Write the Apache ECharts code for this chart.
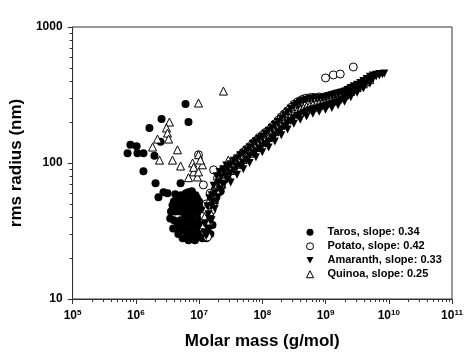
<!DOCTYPE html>
<html><head><meta charset="utf-8">
<script src="https://cdn.jsdelivr.net/npm/echarts@6/dist/echarts.min.js"></script>
<style>html,body{margin:0;padding:0;background:#fff}#c{width:474px;height:358px}</style>
</head><body><div id="c"></div>
<script>
const FONT = '"Liberation Sans", Arial, Helvetica, sans-serif';
const seriesNames = ['Taros, slope: 0.34', 'Potato, slope: 0.42', 'Amaranth, slope: 0.33', 'Quinoa, slope: 0.25'];
const yTickLabels = ['10', '100', '1000'];
const minorMultipliers = [2, 3, 4, 5, 6, 7, 8, 9];
const xDecades = [1e5, 1e6, 1e7, 1e8, 1e9, 1e10];
const yDecades = [10, 100];

// [molar mass (g/mol), rms radius (nm)]
const taros = [
[7.4e5,118],[8.2e5,136],[1.03e6,133],[1.06e6,118],[1.32e6,118],[1.32e6,87],[1.64e6,181],[1.97e6,113],[2.05e6,71],[2.28e6,56],[2.55e6,211],[2.46e6,143],[2.74e6,61],[3.17e6,60],[6.1e6,272],[6.8e6,200],[5.1e6,71],[6.8e6,61],
[3.8e6,49],[4.2e6,44],[4.7e6,53],[5.1e6,38],[5.7e6,47],[6.1e6,35],[6.6e6,41],[7.3e6,52],[7.3e6,32],[8.2e6,38],[8.8e6,47],[9.1e6,30],[9.8e6,35],[1.05e7,41],[1.13e7,28],[1.26e7,33],[1.36e7,39],[1.51e7,30],[1.63e7,35],[4.4e6,33],[5.5e6,28],[6.8e6,27],[3.5e6,39],[8.8e6,58],[1.17e7,49],[6.1e6,55],[4.7e6,30],[5.0e6,44],[6.0e6,40],[7.0e6,45],[8.0e6,42],[9.5e6,44],[1.0e7,52],[7.8e6,36],[9.0e6,33],[1.1e7,36],[1.2e7,44],[5.4e6,50],[6.4e6,31],
[3.6e6,44],[4.0e6,52],[4.0e6,38],[4.5e6,47],[4.6e6,36],[5.2e6,58],[5.3e6,32],[5.8e6,52],[5.9e6,43],[6.3e6,47],[6.5e6,37],[6.9e6,29],[7.1e6,56],[7.5e6,40],[7.6e6,48],[8.1e6,30],[8.4e6,52],[8.5e6,45],[9.2e6,38],[9.3e6,55],[9.7e6,29],[1.02e7,31],[1.03e7,46],[1.08e7,40],[1.15e7,32],[1.25e7,38],[1.3e7,28],[1.4e7,34],[1.45e7,42],[4.2e6,59],[3.9e6,33],[5.6e6,36],[6.2e6,60],[7.7e6,62],[8.6e6,27],
[2.2e7,62],[3.8e7,98],[6.5e7,118],[1.12e8,150],[1.93e8,190],[4.0e8,250],[8.3e8,280],[1.71e9,305],[2.96e9,350],[5.1e9,410]
];
const potato = [
[9.8e6,115],[1.7e7,89],[1.95e7,77],[1.17e7,69],[1.36e7,28.6],[2.4e7,89],[1.5e7,60],[1.3e7,50],[1.6e7,45],[1.42e7,36],[1.25e7,31],[1.2e7,41],[2.0e7,70],[1.8e7,64],
[2.6e7,88],[2.9e7,94],[3.2e7,100],[3.6e7,104],[4.0e7,108],[4.5e7,114],[5.0e7,120],[5.6e7,126],[6.3e7,132],[7.1e7,140],[7.9e7,146],[8.9e7,154],[1.0e8,160],[1.12e8,168],[1.26e8,174],[1.41e8,184],[1.58e8,194],[1.78e8,206],[2.0e8,218],[2.24e8,230],[2.51e8,242],[2.82e8,256],[3.16e8,270],[3.55e8,280],[3.98e8,288],[4.47e8,296],[5.01e8,300],[5.62e8,302],[6.31e8,304],[7.08e8,302],[7.94e8,306],[8.91e8,304],[1.0e9,308],[1.12e9,312],[1.26e9,316],[1.41e9,322],[1.58e9,326],[1.78e9,330],[2.0e9,336],[2.24e9,346],[2.51e9,356],
[1.0e9,422],[1.33e9,444],[1.71e9,451],[2.75e9,508]
];
const amaranth = [
[1.1e7,28],[1.2e7,31],[1.3e7,29],
[1.35e7,48],[1.45e7,55],[1.5e7,38],[1.65e7,52],[1.7e7,68],[1.9e7,52],[1.9e7,80],[2.1e7,64],[2.1e7,86],[2.35e7,70],[2.4e7,90],[2.65e7,80],[2.7e7,96],
[1.26e7,30],[1.26e7,36],[1.41e7,33],[1.41e7,42],[1.58e7,38],[1.58e7,48],[1.58e7,58],[1.78e7,46],[1.78e7,60],[2.0e7,56],[2.0e7,72],[2.24e7,62],[2.24e7,78],[2.51e7,70],[2.51e7,86],[2.82e7,76],[2.82e7,92],[3.16e7,84],[3.16e7,98],[3.55e7,88],[3.55e7,104],[3.98e7,94],[3.98e7,108],[4.47e7,96],[4.47e7,114],[5.01e7,100],[5.01e7,118],[5.62e7,106],[5.62e7,124],[6.31e7,112],[6.31e7,130],[7.08e7,118],[7.08e7,138],[7.94e7,122],[7.94e7,144],[8.91e7,128],[8.91e7,150],
[1.0e8,134],[1.0e8,156],[1.12e8,138],[1.12e8,164],[1.26e8,144],[1.26e8,172],[1.41e8,152],[1.41e8,180],[1.58e8,160],[1.58e8,190],[1.78e8,168],[1.78e8,200],[2.0e8,176],[2.0e8,212],[2.24e8,186],[2.24e8,224],[2.51e8,196],[2.51e8,236],[2.82e8,204],[2.82e8,250],[3.16e8,214],[3.16e8,262],[3.55e8,222],[3.55e8,272],[3.98e8,228],[3.98e8,282],[4.47e8,234],[4.47e8,288],[5.01e8,240],[5.01e8,292],[5.62e8,244],[5.62e8,296],[6.31e8,248],[6.31e8,298],[7.08e8,252],[7.08e8,300],[7.94e8,256],[7.94e8,300],[8.91e8,260],[8.91e8,302],
[1.0e9,264],[1.0e9,304],[1.12e9,268],[1.12e9,310],[1.26e9,272],[1.26e9,314],[1.41e9,278],[1.41e9,318],[1.58e9,284],[1.58e9,322],[1.78e9,292],[1.78e9,328],[2.0e9,300],[2.0e9,334],[2.24e9,312],[2.24e9,344],[2.51e9,326],[2.51e9,356],[2.82e9,338],[2.82e9,366],[3.16e9,350],[3.16e9,376],[3.55e9,362],[3.55e9,388],[3.98e9,376],[3.98e9,400],[4.47e9,390],[4.47e9,414],[5.01e9,404],[5.01e9,430],[5.62e9,418],[5.62e9,440],[6.31e9,432],[6.31e9,446],[7.08e9,440],[7.08e9,452],[7.94e9,450],[8.5e9,455],
[3.16e7,72],[3.98e7,82],[5.01e7,90],[6.31e7,100],[7.94e7,110],[1.0e8,120],[1.26e8,130],[1.58e8,144],[2.0e8,160],[2.51e8,176],[3.16e8,194],[3.98e8,208],[5.01e8,220],[6.31e8,230],[7.94e8,238],[1.0e9,246],[1.26e9,254],[1.58e9,266],[2.0e9,282],[2.51e9,304],[3.16e9,328],[3.98e9,354],[5.01e9,384]
];
const quinoa = [
[2.43e7,338],[9.8e6,276],[3.4e6,200],[3.05e6,181],[3.17e6,166],[2.2e6,150],[3.3e6,150],[1.84e6,131],[2.37e6,105],[4.56e6,125],[3.8e6,105],[5.1e6,95],[7.9e6,100],[1.13e7,97],[2.9e7,105],[8.2e6,86],[6.8e6,78],[9.4e6,79],[9.8e6,115],[1.05e7,105],[8.2e6,93],[9.8e6,86],
[1.15e7,34],[1.22e7,40],[1.3e7,46],[1.35e7,37],[1.42e7,52],[1.48e7,44],[1.55e7,58],[1.6e7,50],[1.7e7,64],[1.75e7,54],[1.85e7,70],[1.95e7,62],[2.1e7,74],[2.3e7,70],[2.5e7,80],
[2.82e7,82],[3.16e7,88],[3.55e7,92],[3.98e7,98],[4.47e7,102],[5.01e7,106],[5.62e7,112],[6.31e7,118],[7.08e7,124],[7.94e7,130],[8.91e7,136],[1.0e8,142],[1.12e8,148],[1.26e8,154],[1.41e8,160],[1.58e8,170],[1.78e8,180],[2.0e8,190],[2.24e8,200],[2.51e8,210],[2.82e8,222],[3.16e8,232],[3.55e8,240],[3.98e8,248],[4.47e8,254],[5.01e8,260],[5.62e8,264],[6.31e8,268],[7.08e8,272],[7.94e8,276],[8.91e8,278],[1.0e9,282],[1.12e9,286],[1.26e9,290],[1.41e9,296],[1.58e9,302],[1.78e9,308],[2.0e9,316],[2.24e9,326],[2.51e9,336],[2.82e9,348],[3.16e9,358],[3.55e9,370],[3.98e9,382],[4.47e9,396],[5.01e9,410]
];

const xMinor = [];
xDecades.forEach(d => minorMultipliers.forEach(m => xMinor.push([d * m, 10])));
const yMinor = [];
yDecades.forEach(d => minorMultipliers.forEach(m => yMinor.push([1e5, d * m])));

const AX = '#333';
const chart = echarts.init(document.getElementById('c'), null, {renderer: 'canvas'});
const downTri = 'path://M0,0 L10,0 L5,9 Z';
const SZ = 8;

chart.setOption({
  animation: false,
  backgroundColor: '#fff',
  grid: {left: 72, top: 27, right: 22, bottom: 59, show: true, borderColor: AX, borderWidth: 1},
  xAxis: {
    type: 'log', logBase: 10, min: 1e5, max: 1e11,
    name: 'Molar mass (g/mol)', nameLocation: 'middle', nameGap: 34,
    nameTextStyle: {fontFamily: FONT, fontWeight: 'bold', fontSize: 17, color: '#000'},
    axisLine: {lineStyle: {color: AX, width: 1}},
    axisTick: {show: true, length: 5, lineStyle: {color: AX}},
    splitLine: {show: false},
    axisLabel: {
      margin: 10, color: '#000',
      formatter: v => { const e = Math.round(Math.log10(v)); return '{b|10}{s|' + e + '}'; },
      rich: {
        b: {fontFamily: FONT, fontWeight: 'bold', fontSize: 12, color: '#000'},
        s: {fontFamily: FONT, fontWeight: 'bold', fontSize: 8, color: '#000', verticalAlign: 'top', padding: [0, 0, 6, 0]}
      }
    }
  },
  yAxis: {
    type: 'log', logBase: 10, min: 10, max: 1000,
    name: 'rms radius (nm)', nameLocation: 'middle', nameGap: 38,
    nameTextStyle: {fontFamily: FONT, fontWeight: 'bold', fontSize: 17, color: '#000'},
    axisLine: {show: true, lineStyle: {color: AX, width: 1}},
    axisTick: {show: true, length: 5, lineStyle: {color: AX}},
    splitLine: {show: false},
    axisLabel: {margin: 10, fontFamily: FONT, fontWeight: 'bold', fontSize: 12, color: '#000',
      formatter: v => { const e = Math.round(Math.log10(v)); return yTickLabels[e - 1]; }}
  },
  legend: {
    data: seriesNames, orient: 'vertical', left: 306, top: 226, padding: 0,
    itemWidth: 7, itemHeight: 7, itemGap: 1.5,
    itemStyle: {borderWidth: 1},
    textStyle: {fontFamily: FONT, fontWeight: 'bold', fontSize: 11, color: '#000', lineHeight: 12.5, padding: [0, 0, 0, 9]},
    selectedMode: false
  },
  series: [
    {name: seriesNames[0], type: 'scatter', data: taros, symbol: 'circle', symbolSize: SZ,
     itemStyle: {color: '#000', opacity: 1}},
    {name: seriesNames[1], type: 'scatter', data: potato, symbol: 'circle', symbolSize: SZ,
     itemStyle: {color: '#fff', borderColor: '#000', borderWidth: 1, opacity: 1}},
    {name: seriesNames[3], type: 'scatter', data: quinoa, symbol: 'triangle', symbolSize: SZ,
     itemStyle: {color: '#fff', borderColor: '#000', borderWidth: 1, opacity: 1}},
    {name: seriesNames[2], type: 'scatter', data: amaranth, symbol: downTri, symbolSize: SZ,
     itemStyle: {color: '#000', opacity: 1}},
    {type: 'custom', silent: true, clip: false, data: xMinor,
     renderItem: (p, api) => { const c = api.coord([api.value(0), api.value(1)]); const x = Math.round(c[0]) + 0.5;
       return {type: 'line', shape: {x1: x, y1: c[1], x2: x, y2: c[1] + 3}, style: {stroke: AX, lineWidth: 1}}; }},
    {type: 'custom', silent: true, clip: false, data: yMinor,
     renderItem: (p, api) => { const c = api.coord([api.value(0), api.value(1)]); const y = Math.round(c[1]) + 0.5;
       return {type: 'line', shape: {x1: c[0] - 3, y1: y, x2: c[0], y2: y}, style: {stroke: AX, lineWidth: 1}}; }}
  ]
});
</script></body></html>
